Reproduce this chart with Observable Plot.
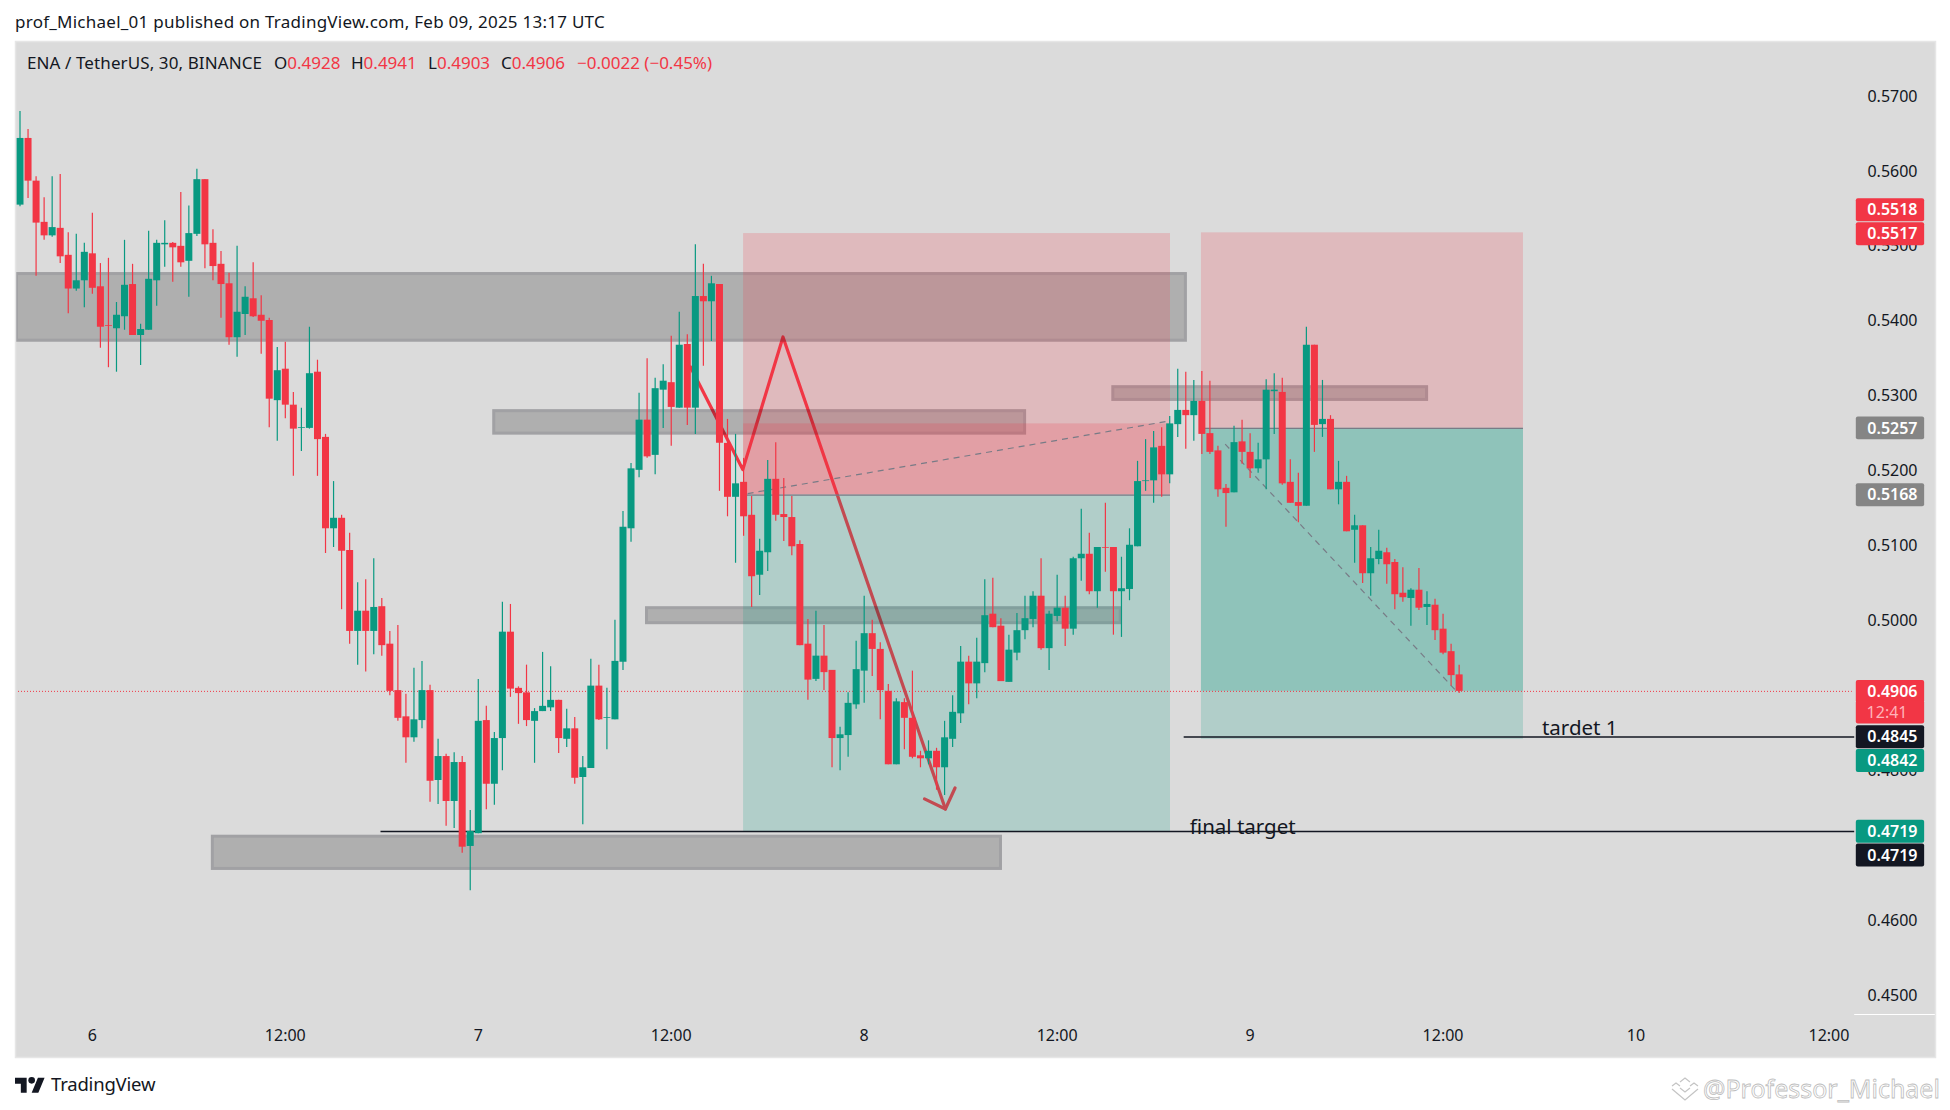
<!DOCTYPE html>
<html>
<head>
<meta charset="utf-8">
<script src="https://cdn.jsdelivr.net/npm/d3@7"></script>
<script src="https://cdn.jsdelivr.net/npm/@observablehq/plot@0.6"></script>
<style>
html,body{margin:0;padding:0;background:#fff;width:1950px;height:1110px;overflow:hidden}
body{position:relative;font-family:"Noto Sans",sans-serif;color:#131722}
#top{height:41px;position:relative}
#publish{position:absolute;left:15px;top:11px;font-size:17px;letter-spacing:.25px;line-height:22px;white-space:nowrap}
#chart{margin-left:15px;height:1016px}
#chart svg{display:block}
.lg{position:absolute;top:52px;font-size:17px;line-height:22px;white-space:nowrap}
.r{color:#f23645}
#brand{position:absolute;left:15px;top:1072px;height:24px;display:flex;align-items:center}
#brand span{font-size:18.5px;margin-left:6px;letter-spacing:-.2px;line-height:24px}
#mark{position:absolute;left:1703px;top:1071px;font-size:25px;line-height:34px;color:#fff;-webkit-text-stroke:.8px #bdbdbd;white-space:nowrap}
#markicon{position:absolute;left:1671px;top:1076px}
</style>
</head>
<body>
<div id="top"><div id="publish">prof_Michael_01 published on TradingView.com, Feb 09, 2025 13:17 UTC</div></div>
<div id="chart"></div>
<div class="lg" style="left:27px;letter-spacing:.1px">ENA / TetherUS, 30, BINANCE</div>
<div class="lg" style="left:274px">O<span class="r">0.4928</span></div>
<div class="lg" style="left:351px">H<span class="r">0.4941</span></div>
<div class="lg" style="left:428px">L<span class="r">0.4903</span></div>
<div class="lg" style="left:501px">C<span class="r">0.4906</span></div>
<div class="lg r" style="left:577px">−0.0022 (−0.45%)</div>
<div id="brand"><svg width="30" height="17" viewBox="0 2 36 20"><path fill="#131722" d="M14 22H7V11H0V4h14v18zM28 22h-8l7.5-18h8L28 22z"/><circle fill="#131722" cx="20" cy="7" r="4"/></svg><span>TradingView</span></div>
<svg id="markicon" width="28" height="26" viewBox="0 0 28 26" fill="none" stroke="#c4c4c4" stroke-width="1.2"><path d="M9 6l5-4 5 4M1 10l4-3 4 3M19 10l4-3 4 3M9 12l5 4 5-4M1 13l13 11 13-11"/></svg>
<div id="mark">@Professor_Michael</div>
<script>
const open = [0.5555,0.5644,0.5587,0.5532,0.5514,0.5524,0.5488,0.5443,0.5454,0.5490,
0.5446,0.5394,0.5390,0.5406,0.5449,0.5381,0.5388,0.5454,0.5502,0.5504,
0.5500,0.5480,0.5516,0.5589,0.5504,0.5476,0.5450,0.5378,0.5409,0.5430,
0.5408,0.5401,0.5294,0.5336,0.5288,0.5257,0.5257,0.5332,0.5245,0.5123,
0.5137,0.5094,0.4986,0.5013,0.4986,0.5019,0.4969,0.4907,0.4872,0.4844,
0.4867,0.4907,0.4787,0.4819,0.4759,0.4811,0.4699,0.4716,0.4867,0.4782,
0.4843,0.4985,0.4910,0.4904,0.4866,0.4879,0.4884,0.4894,0.4842,0.4856,
0.4791,0.4803,0.4913,0.4870,0.4868,0.4945,0.5123,0.5201,0.5268,0.5221,
0.5308,0.5318,0.5284,0.5369,0.5284,0.5433,0.5426,0.5449,0.5237,0.5165,
0.5185,0.5141,0.5061,0.5091,0.5189,0.5142,0.5138,0.5102,0.4969,0.4922,
0.4953,0.4934,0.4843,0.4847,0.4888,0.4933,0.4983,0.4962,0.4906,0.4808,
0.4891,0.4870,0.4820,0.4816,0.4826,0.4804,0.4842,0.4876,0.4945,0.4916,
0.4943,0.5009,0.4993,0.4918,0.4957,0.4987,0.5002,0.5033,0.4963,0.5006,
0.5017,0.4989,0.5083,0.5089,0.5039,0.5098,0.5098,0.5039,0.5042,0.5099,
0.5186,0.5187,0.5233,0.5195,0.5262,0.5281,0.5274,0.5293,0.5250,0.5227,
0.5177,0.5171,0.5239,0.5225,0.5203,0.5215,0.5306,0.5305,0.5185,0.5158,
0.5153,0.5368,0.5262,0.5269,0.5175,0.5185,0.5121,0.5127,0.5063,0.5082,
0.5091,0.5078,0.5037,0.5030,0.5041,0.5018,0.5021,0.4989,0.4959,0.4928];
const close = [0.5644,0.5587,0.5531,0.5514,0.5525,0.5486,0.5443,0.5454,0.5492,0.5444,
0.5392,0.5393,0.5408,0.5448,0.5381,0.5389,0.5456,0.5504,0.5504,0.5498,
0.5478,0.5517,0.5589,0.5502,0.5473,0.5449,0.5378,0.5412,0.5432,0.5406,
0.5400,0.5296,0.5334,0.5288,0.5256,0.5258,0.5330,0.5242,0.5123,0.5137,
0.5093,0.4986,0.5013,0.4986,0.5018,0.4967,0.4906,0.4870,0.4844,0.4868,
0.4907,0.4786,0.4819,0.4759,0.4811,0.4698,0.4719,0.4866,0.4782,0.4843,
0.4985,0.4909,0.4903,0.4867,0.4879,0.4886,0.4894,0.4843,0.4856,0.4790,
0.4804,0.4913,0.4868,0.4871,0.4946,0.5125,0.5203,0.5268,0.5219,0.5310,
0.5320,0.5285,0.5368,0.5284,0.5433,0.5426,0.5450,0.5237,0.5165,0.5183,
0.5139,0.5059,0.5093,0.5189,0.5141,0.5138,0.5099,0.4967,0.4921,0.4953,
0.4931,0.4843,0.4848,0.4890,0.4935,0.4983,0.4962,0.4907,0.4808,0.4892,
0.4870,0.4818,0.4816,0.4826,0.4804,0.4844,0.4878,0.4945,0.4916,0.4945,
0.5007,0.4991,0.4919,0.4961,0.4987,0.5003,0.5033,0.4963,0.5009,0.5017,
0.4989,0.5083,0.5089,0.5039,0.5098,0.5097,0.5039,0.5043,0.5101,0.5186,
0.5187,0.5231,0.5195,0.5263,0.5281,0.5274,0.5293,0.5249,0.5225,0.5175,
0.5170,0.5238,0.5225,0.5203,0.5215,0.5308,0.5308,0.5183,0.5157,0.5153,
0.5368,0.5261,0.5269,0.5175,0.5185,0.5119,0.5127,0.5063,0.5083,0.5093,
0.5075,0.5035,0.5031,0.5041,0.5017,0.5022,0.4987,0.4957,0.4927,0.4906];
const high = [0.5680,0.5656,0.5593,0.5565,0.5593,0.5596,0.5518,0.5516,0.5504,0.5544,
0.5477,0.5484,0.5425,0.5508,0.5476,0.5396,0.5520,0.5508,0.5534,0.5505,
0.5572,0.5554,0.5603,0.5589,0.5522,0.5493,0.5464,0.5500,0.5446,0.5478,
0.5434,0.5404,0.5365,0.5372,0.5305,0.5284,0.5392,0.5348,0.5249,0.5186,
0.5141,0.5117,0.5051,0.5055,0.5083,0.5030,0.4986,0.4994,0.4902,0.4937,
0.4946,0.4914,0.4842,0.4822,0.4824,0.4819,0.4747,0.4922,0.4886,0.4851,
0.5025,0.5022,0.4912,0.4941,0.4883,0.4958,0.4939,0.4894,0.4882,0.4871,
0.4819,0.4949,0.4941,0.4910,0.5001,0.5146,0.5210,0.5304,0.5350,0.5324,
0.5342,0.5380,0.5412,0.5382,0.5502,0.5476,0.5460,0.5449,0.5269,0.5249,
0.5217,0.5166,0.5109,0.5214,0.5238,0.5190,0.5166,0.5107,0.5002,0.5013,
0.4994,0.4934,0.4858,0.4904,0.4973,0.5033,0.5001,0.4971,0.4915,0.4896,
0.4896,0.4933,0.4826,0.4840,0.4830,0.4866,0.4900,0.4966,0.4953,0.4977,
0.5055,0.5057,0.5003,0.4981,0.5010,0.5033,0.5039,0.5083,0.5013,0.5061,
0.5033,0.5085,0.5149,0.5117,0.5098,0.5157,0.5098,0.5085,0.5123,0.5213,
0.5242,0.5253,0.5258,0.5273,0.5336,0.5332,0.5321,0.5333,0.5320,0.5233,
0.5182,0.5260,0.5268,0.5250,0.5237,0.5322,0.5330,0.5324,0.5215,0.5197,
0.5392,0.5368,0.5321,0.5274,0.5213,0.5193,0.5141,0.5127,0.5098,0.5121,
0.5097,0.5082,0.5071,0.5043,0.5070,0.5039,0.5029,0.5009,0.4969,0.4941];
const low = [0.5553,0.5564,0.5460,0.5508,0.5512,0.5477,0.5410,0.5440,0.5418,0.5436,
0.5364,0.5338,0.5332,0.5388,0.5381,0.5341,0.5388,0.5420,0.5472,0.5452,
0.5472,0.5432,0.5513,0.5470,0.5454,0.5404,0.5368,0.5352,0.5381,0.5405,
0.5356,0.5258,0.5240,0.5270,0.5193,0.5226,0.5256,0.5193,0.5090,0.5098,
0.5015,0.4969,0.4941,0.4932,0.4955,0.4953,0.4900,0.4866,0.4810,0.4838,
0.4856,0.4758,0.4755,0.4726,0.4723,0.4690,0.4640,0.4716,0.4748,0.4754,
0.4800,0.4898,0.4862,0.4859,0.4810,0.4879,0.4879,0.4823,0.4831,0.4782,
0.4728,0.4803,0.4867,0.4828,0.4868,0.4934,0.5105,0.5191,0.5217,0.5195,
0.5257,0.5233,0.5284,0.5261,0.5249,0.5340,0.5373,0.5173,0.5139,0.5077,
0.5113,0.5018,0.5034,0.5066,0.5133,0.5106,0.5087,0.4967,0.4894,0.4919,
0.4907,0.4804,0.4800,0.4818,0.4882,0.4890,0.4926,0.4868,0.4808,0.4808,
0.4828,0.4816,0.4804,0.4808,0.4774,0.4767,0.4831,0.4863,0.4888,0.4896,
0.4931,0.4991,0.4919,0.4918,0.4947,0.4975,0.4991,0.4961,0.4934,0.4999,
0.4966,0.4981,0.5053,0.5035,0.5017,0.5065,0.4981,0.4978,0.5027,0.5099,
0.5173,0.5157,0.5165,0.5183,0.5245,0.5229,0.5240,0.5222,0.5222,0.5165,
0.5125,0.5171,0.5209,0.5190,0.5197,0.5175,0.5249,0.5181,0.5157,0.5131,
0.5153,0.5225,0.5245,0.5175,0.5155,0.5119,0.5077,0.5050,0.5033,0.5075,
0.5049,0.5015,0.5025,0.4993,0.5014,0.4994,0.4974,0.4955,0.4913,0.4903];

// price ticks (0.47 and 0.49 sit fully behind badges in the reference) and time ticks (bars counted from the first candle)
const priceTicks = [0.45,0.46,0.48,0.50,0.51,0.52,0.53,0.54,0.55,0.56,0.57];
const timeTickBars = [9,33,57,81,105,129,153,177,201,225];
const timeTickLabels = ["6","12:00","7","12:00","8","12:00","9","12:00","10","12:00"];

// grey supply / demand zones
const zoneTop = [0.5465,0.5282,0.5314,0.5019,0.4714];
const zoneBottom = [0.5372,0.5248,0.5293,0.4995,0.4667];
const zoneStart = [-0.56,58.8,135.8,77.8,23.8];
const zoneEnd = [145.2,125.2,175.2,137.1,122.2];

// short position tools: stop, entry, target, top of the filled loss part, bottom of the filled profit part
const posStart = [90,146.95];
const posEnd = [143.1,187];
const posStop = [0.5517,0.5518];
const posEntry = [0.5168,0.5257];
const posTarget = [0.4719,0.4842];
const posLossTo = [0.5263,null];
const posProfitTo = [null,0.4906];
const dashBars = [[90.5,143],[149.9,178.6]];
const dashPrices = [[0.5170,0.5267],[0.5236,0.4907]];

// hand-drawn arrow
const zigBars = [83.4,89.9,94.9,115.1];
const zigPrices = [0.5339,0.5202,0.5379,0.4749];
const headBars = [112.5,115.1,116.3];
const headPrices = [0.47625,0.4749,0.4777];

// target lines and their notes
const targetPrices = [0.4719,0.4845];
const targetStart = [44.9,144.8];
const targetEnd = 228.2;
const noteText = ["final target","tardet 1"];
const noteBars = [145.5,189.3];
const notePrices = [0.47245,0.48564];

// price-scale badges: label, price where the badge sits, colour
const badgeLabels = ["0.5518","0.5517","0.5257","0.5168","0.4906","0.4845","0.4842","0.4719","0.4719"];
const badgePrices = [0.55482,0.55162,0.5257,0.51678,0.49051,0.48448,0.4813,0.47186,0.4687];
const badgeColors = ["#f23645","#f23645","#858585","#858585","#f23645","#131722","#089981","#089981","#131722"];
const countdownLabel = "12:41";
const countdownPrice = 0.48778;
const lastPrice = 0.4906;

const T0 = Date.UTC(2025,1,5,19,30);
const t = b => new Date(T0 + b*1800000);
const candles = open.map((o,i)=>({date:t(i),open:o,close:close[i],high:high[i],low:low[i],dir:close[i]>=o?"up":"down"}));
const zones = zoneTop.map((p,i)=>({top:p,bottom:zoneBottom[i],a:t(zoneStart[i]),b:t(zoneEnd[i])}));
const posRects = [];
posStart.forEach((s,i)=>{
  const a=t(s),b=t(posEnd[i]);
  posRects.push({a,b,y1:posEntry[i],y2:posStop[i],f:"rgba(242,54,69,.2)"});
  posRects.push({a,b,y1:posTarget[i],y2:posEntry[i],f:"rgba(8,153,129,.2)"});
  if(posLossTo[i]!=null)posRects.push({a,b,y1:posEntry[i],y2:posLossTo[i],f:"rgba(242,54,69,.2)"});
  if(posProfitTo[i]!=null)posRects.push({a,b,y1:posProfitTo[i],y2:posEntry[i],f:"rgba(8,153,129,.2)"});
});
const entries = posEntry.map((p,i)=>({y:p,a:t(posStart[i]),b:t(posEnd[i])}));
const dashes = dashBars.map((d,i)=>({a:t(d[0]),b:t(d[1]),y1:dashPrices[i][0],y2:dashPrices[i][1]}));
const zig = zigBars.map((b,i)=>({x:t(b),y:zigPrices[i]}));
const head = headBars.map((b,i)=>({x:t(b),y:headPrices[i]}));
const targets = targetPrices.map((p,i)=>({y:p,a:t(targetStart[i]),b:t(targetEnd)}));
const notes = noteText.map((s,i)=>({s,x:t(noteBars[i]),y:notePrices[i]}));
const timeTicks = timeTickBars.map((b,i)=>({x:t(b),s:timeTickLabels[i]}));
const badges = badgeLabels.map((s,i)=>({s,y:badgePrices[i],c:badgeColors[i]}));
const badgeA=t(228.4), badgeB=t(236.9), halfBadge=0.00153;
const FONT='"Noto Sans",sans-serif';

const plot = Plot.plot({
  width:1920,height:1016,marginTop:0,marginBottom:0,marginLeft:0,marginRight:0,
  style:{background:"#dbdbdb",fontFamily:FONT,overflow:"visible"},
  x:{type:"utc",domain:[t(-0.56),t(238.25)],axis:null},
  y:{domain:[0.44173,0.57734],label:null,tickFormat:d3.format(".4f")},
  color:{domain:["up","down"],range:["#089981","#f23645"]},
  marks:[
    Plot.line(zig,{x:"x",y:"y",stroke:"#f23645",strokeWidth:3.2}),
    Plot.line(head,{x:"x",y:"y",stroke:"#f23645",strokeWidth:3.2}),
    Plot.rect(zones,{x1:"a",x2:"b",y1:"bottom",y2:"top",fill:"rgba(0,0,0,.2)"}),
    Plot.rect(zones,{x1:"a",x2:"b",y1:"bottom",y2:"top",inset:1.5,fill:"none",stroke:"rgba(20,20,60,.09)",strokeWidth:3}),
    Plot.rect(posRects,{x1:"a",x2:"b",y1:"y1",y2:"y2",fill:"f"}),
    Plot.ruleY(entries,{y:"y",x1:"a",x2:"b",stroke:"#787b86",strokeWidth:1.3}),
    Plot.link(dashes,{x1:"a",x2:"b",y1:"y1",y2:"y2",stroke:"#787b86",strokeWidth:1.2,strokeDasharray:"6,5"}),
    Plot.ruleY(targets,{y:"y",x1:"a",x2:"b",stroke:"#131722",strokeWidth:1.4}),
    Plot.ruleY([lastPrice],{x1:t(-0.56),x2:t(227.9),stroke:"#f23645",strokeWidth:1,strokeDasharray:"1,2"}),
    Plot.ruleX(candles,{x:"date",y1:"low",y2:"high",stroke:"dir",strokeWidth:1.2}),
    Plot.ruleX(candles,{x:"date",y1:"open",y2:"close",stroke:"dir",strokeWidth:7}),
    Plot.text(notes,{x:"x",y:"y",text:"s",textAnchor:"start",fontSize:20.5,fill:"#131722"}),
    Plot.axisY(priceTicks,{anchor:"right",tickSize:0,tickPadding:-18,textAnchor:"end",fontSize:16,fill:"#131722",label:null,tickFormat:d3.format(".4f")}),
    Plot.text(timeTicks,{x:"x",text:"s",frameAnchor:"bottom",dy:-17,fontSize:16,fill:"#131722"}),
    Plot.ruleY([0.44747],{x1:t(228.2),x2:t(238.25),stroke:"#fff",strokeWidth:1}),
    Plot.rect(badges,{x1:()=>badgeA,x2:()=>badgeB,y1:d=>d.y-halfBadge,y2:d=>d.y+halfBadge,fill:"c",rx:2}),
    Plot.rect([countdownPrice],{x1:()=>badgeA,x2:()=>badgeB,y1:d=>d-halfBadge,y2:d=>d+halfBadge,fill:"#f23645",rx:2}),
    Plot.text(badges,{y:"y",text:"s",frameAnchor:"right",dx:-18,textAnchor:"end",fontSize:16,fontWeight:600,fill:"#fff"}),
    Plot.text([countdownLabel],{y:()=>countdownPrice,text:d=>d,frameAnchor:"right",dx:-28,textAnchor:"end",fontSize:16,fill:"#ffb3b9"}),
    Plot.frame({stroke:"#e6e6e6",strokeWidth:1.5})
  ]
});
document.getElementById("chart").append(plot);
</script>
</body>
</html>
